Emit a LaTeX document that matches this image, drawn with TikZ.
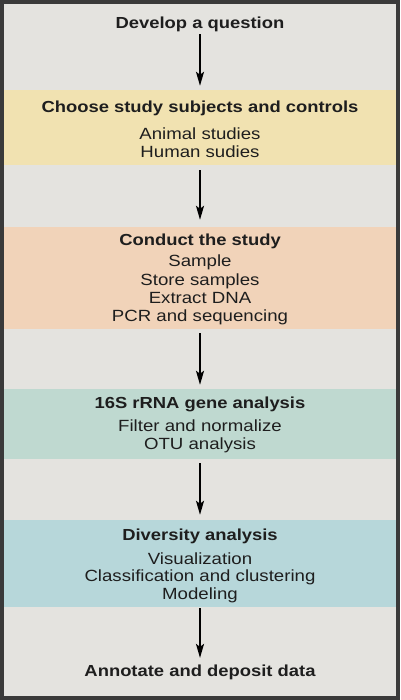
\documentclass[tikz,border=0pt]{standalone}
\usepackage{fontspec}
\setmainfont{Liberation Sans}[FakeStretch=1.15]
\usetikzlibrary{arrows.meta}
\definecolor{bgc}{HTML}{E4E3DF}
\definecolor{yel}{HTML}{F1E2B1}
\definecolor{ora}{HTML}{F1D3B9}
\definecolor{grn}{HTML}{BFD9D0}
\definecolor{blu}{HTML}{B7D7DA}
\definecolor{frm}{HTML}{3A3A3A}
\definecolor{txt}{HTML}{1E1E1E}
\tikzset{
  band/.style={rectangle, draw=none, inner sep=0pt, minimum width=393pt},
  head/.style={anchor=base, inner sep=0pt, text=txt, font=\fontsize{16}{18}\selectfont\bfseries},
  item/.style={anchor=base, inner sep=0pt, text=txt, font=\fontsize{16.2}{18}\selectfont},
  arr/.style={draw=black, line width=1.9pt, -{Stealth[length=14pt, width=8pt, inset=3pt]}}
}
\begin{document}
\begin{tikzpicture}[x=1pt, y=-1pt]
\useasboundingbox (0,0) rectangle (400,700);
\fill[bgc] (0,0) rectangle (400,700);
% bands
\node[band, fill=yel, minimum height=75pt] (b1) at (200,127.5) {};
\node[band, fill=ora, minimum height=102pt] (b2) at (200,278) {};
\node[band, fill=grn, minimum height=70pt] (b3) at (200,424) {};
\node[band, fill=blu, minimum height=87pt] (b4) at (200,563.5) {};
% frame
\draw[frm, line width=3.6pt] (1.8,1.8) rectangle (398.2,698.2);
% texts
\node[head] (q) at (200,29) {Develop a question};
\node[head] (h1) at (200,112.5) {Choose study subjects and controls};
\node[item] (t11) at (200,140) {Animal studies};
\node[item] (t12) at (200,157.7) {Human sudies};
\node[head] (h2) at (200,245.7) {Conduct the study};
\node[item] (t21) at (200,266.7) {Sample};
\node[item] (t22) at (200,285) {Store samples};
\node[item] (t23) at (200,303.3) {Extract DNA};
\node[item] (t24) at (200,321.7) {PCR and sequencing};
\node[head] (h3) at (200,408.3) {16S rRNA gene analysis};
\node[item] (t31) at (200,431.7) {Filter and normalize};
\node[item] (t32) at (200,449.3) {OTU analysis};
\node[head] (h4) at (200,540) {Diversity analysis};
\node[item] (t41) at (200,564) {Visualization};
\node[item] (t42) at (200,581.7) {Classification and clustering};
\node[item] (t43) at (200,599.3) {Modeling};
\node[head] (a) at (200,676.7) {Annotate and deposit data};
% arrows
\draw[arr, shorten <=1.5pt, shorten >=4pt] (q.south) -- (b1.north);
\draw[arr, shorten <=5pt, shorten >=7pt] (b1.south) -- (b2.north);
\draw[arr, shorten <=4pt, shorten >=4pt] (b2.south) -- (b3.north);
\draw[arr, shorten <=4pt, shorten >=5pt] (b3.south) -- (b4.north);
\draw[arr, shorten <=1pt, shorten >=7pt] (b4.south) -- (a.north);
\end{tikzpicture}
\end{document}
